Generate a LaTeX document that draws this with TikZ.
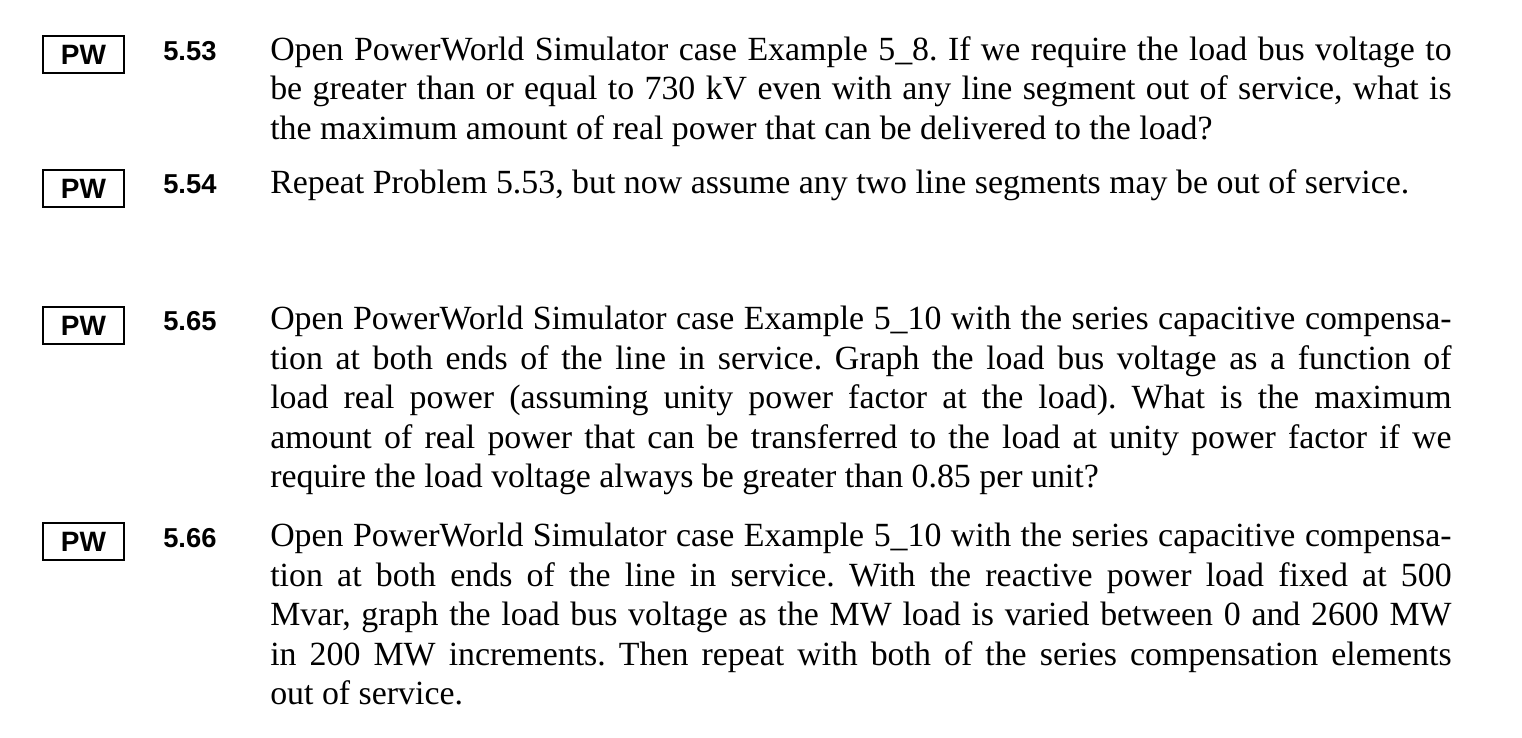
\documentclass[tikz,border=0pt]{standalone}
\usepackage{fontspec}
\setmainfont{Liberation Serif}
\newfontfamily\pwsans{Liberation Sans}
\frenchspacing
\begin{document}
\begin{tikzpicture}[x=0.75pt,y=-0.75pt,
  pw/.style={draw,line width=1.3pt,minimum width=61pt,minimum height=28pt,inner sep=0pt,anchor=north west,font=\pwsans\bfseries\fontsize{21}{21}\selectfont},
  num/.style={anchor=north west,inner sep=0pt,font=\pwsans\bfseries\fontsize{20.5}{20.5}\selectfont},
  para/.style={anchor=north west,inner sep=0pt,text width=886pt,align=justify,font=\fontsize{25.4}{29.6}\selectfont}]
\useasboundingbox (0,0) rectangle (1522,738);
\node[pw] (b1) at (42,35) {PW};
\node[pw] (b2) at (42,169) {PW};
\node[pw] (b3) at (42,306) {PW};
\node[pw] (b4) at (42,522) {PW};
\node[num] (n1) at (163,41) {5.53};
\node[num] (n2) at (163,174) {5.54};
\node[num] (n3) at (163,311) {5.65};
\node[num] (n4) at (163,528) {5.66};
\node[para] (p1) at (270,36) {Open PowerWorld Simulator case Example 5\_8. If we require the load bus voltage to\linebreak be greater than or equal to 730 kV even with any line segment out of service, what is\linebreak the maximum amount of real power that can be delivered to the load?};
\node[para] (p2) at (270,169) {Repeat Problem 5.53, but now assume any two line segments may be out of service.};
\node[para] (p3) at (270,306) {Open PowerWorld Simulator case Example 5\_10 with the series capacitive compensa-\linebreak tion at both ends of the line in service. Graph the load bus voltage as a function of\linebreak load real power (assuming unity power factor at the load). What is the maximum\linebreak amount of real power that can be transferred to the load at unity power factor if we\linebreak require the load voltage always be greater than 0.85 per unit?};
\node[para] (p4) at (270,523) {Open PowerWorld Simulator case Example 5\_10 with the series capacitive compensa-\linebreak tion at both ends of the line in service. With the reactive power load fixed at 500\linebreak Mvar, graph the load bus voltage as the MW load is varied between 0 and 2600 MW\linebreak in 200 MW increments. Then repeat with both of the series compensation elements\linebreak out of service.};
\end{tikzpicture}
\end{document}
